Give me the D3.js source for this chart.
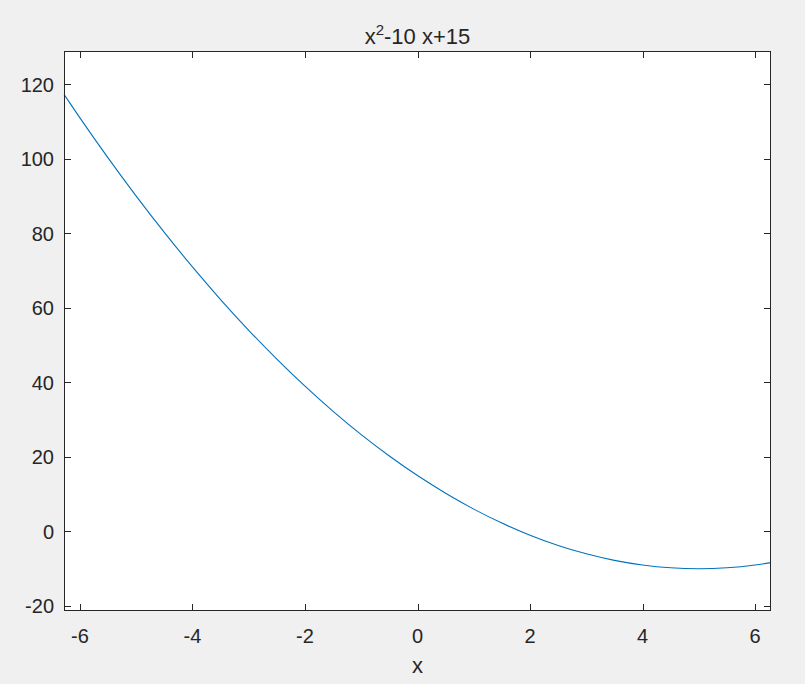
<!DOCTYPE html>
<html>
<head>
<meta charset="utf-8">
<script src="https://cdn.jsdelivr.net/npm/d3@7"></script>
<style>
  html, body { margin: 0; padding: 0; background: #f0f0f0; }
  svg { display: block; font-family: "Liberation Sans", Arial, sans-serif; }
</style>
</head>
<body>
<div id="chart"></div>
<script>
// values
const xs = [-6.283, -6, -5.5, -5, -4.5, -4, -3.5, -3, -2.5, -2, -1.5, -1, -0.5, 0,
            0.5, 1, 1.5, 2, 2.5, 3, 3.5, 4, 4.5, 5, 5.5, 6, 6.283];
const ys = [117.3, 111, 100.25, 90, 80.25, 71, 62.25, 54, 46.25, 39, 32.25, 26, 20.25, 15,
            10.25, 6, 2.25, -1, -3.75, -6, -7.75, -9, -9.75, -10, -9.75, -9, -8.36];
const xTicks = [-6, -4, -2, 0, 2, 4, 6];
const yTicks = [-20, 0, 20, 40, 60, 80, 100, 120];

const W = 805, H = 684;
const box = { left: 64, right: 771, top: 51, bottom: 611 };
const axisColor = '#262626';

const svg = d3.select('#chart').append('svg')
  .attr('width', W).attr('height', H);

svg.append('rect')
  .attr('x', box.left).attr('y', box.top)
  .attr('width', box.right - box.left).attr('height', box.bottom - box.top)
  .attr('fill', '#fff');

const x = d3.scaleLinear().domain([-2 * Math.PI, 2 * Math.PI]).range([box.left, box.right]);
const y = d3.scaleLinear().domain([-21.34, 128.94]).range([box.bottom, box.top]);

// curve
const pts = xs.map((v, i) => [v, ys[i]]);
svg.append('path')
  .datum(pts)
  .attr('fill', 'none')
  .attr('stroke', '#0072bd')
  .attr('stroke-width', 1.1)
  .attr('d', d3.line().x(d => x(d[0])).y(d => y(d[1])).curve(d3.curveMonotoneX));

// axes (ticks inside, mirrored on top/right)
const tl = 7;
const g = svg.append('g').attr('stroke', axisColor).attr('stroke-width', 1).attr('fill', 'none');
xTicks.forEach(t => {
  const px = Math.round(x(t)) + 0.5;
  g.append('line').attr('x1', px).attr('x2', px).attr('y1', box.bottom).attr('y2', box.bottom - tl);
  g.append('line').attr('x1', px).attr('x2', px).attr('y1', box.top).attr('y2', box.top + tl);
});
yTicks.forEach(t => {
  const py = Math.round(y(t)) + 0.5;
  g.append('line').attr('x1', box.left).attr('x2', box.left + tl).attr('y1', py).attr('y2', py);
  g.append('line').attr('x1', box.right).attr('x2', box.right - tl).attr('y1', py).attr('y2', py);
});
g.append('rect')
  .attr('x', box.left + 0.5).attr('y', box.top + 0.5)
  .attr('width', box.right - box.left - 1).attr('height', box.bottom - box.top - 1);

// tick labels
svg.append('g').selectAll('text').data(xTicks).join('text')
  .attr('x', d => x(d)).attr('y', 643)
  .attr('text-anchor', 'middle')
  .attr('font-size', 20).attr('fill', axisColor)
  .text(d => d);

svg.append('g').selectAll('text').data(yTicks).join('text')
  .attr('x', 54).attr('y', d => y(d) + 7.3)
  .attr('text-anchor', 'end')
  .attr('font-size', 20).attr('fill', axisColor)
  .text(d => d);

// x label
svg.append('text')
  .attr('x', (box.left + box.right) / 2).attr('y', 673)
  .attr('text-anchor', 'middle')
  .attr('font-size', 22).attr('fill', axisColor)
  .text('x');

// title
const title = svg.append('text')
  .attr('x', (box.left + box.right) / 2).attr('y', 43.5)
  .attr('text-anchor', 'middle')
  .attr('font-size', 22).attr('fill', axisColor);
title.append('tspan').text('x');
title.append('tspan').attr('font-size', 15).attr('dy', -9).text('2');
title.append('tspan').attr('dy', 9).text('-10 x+15');
</script>
</body>
</html>
